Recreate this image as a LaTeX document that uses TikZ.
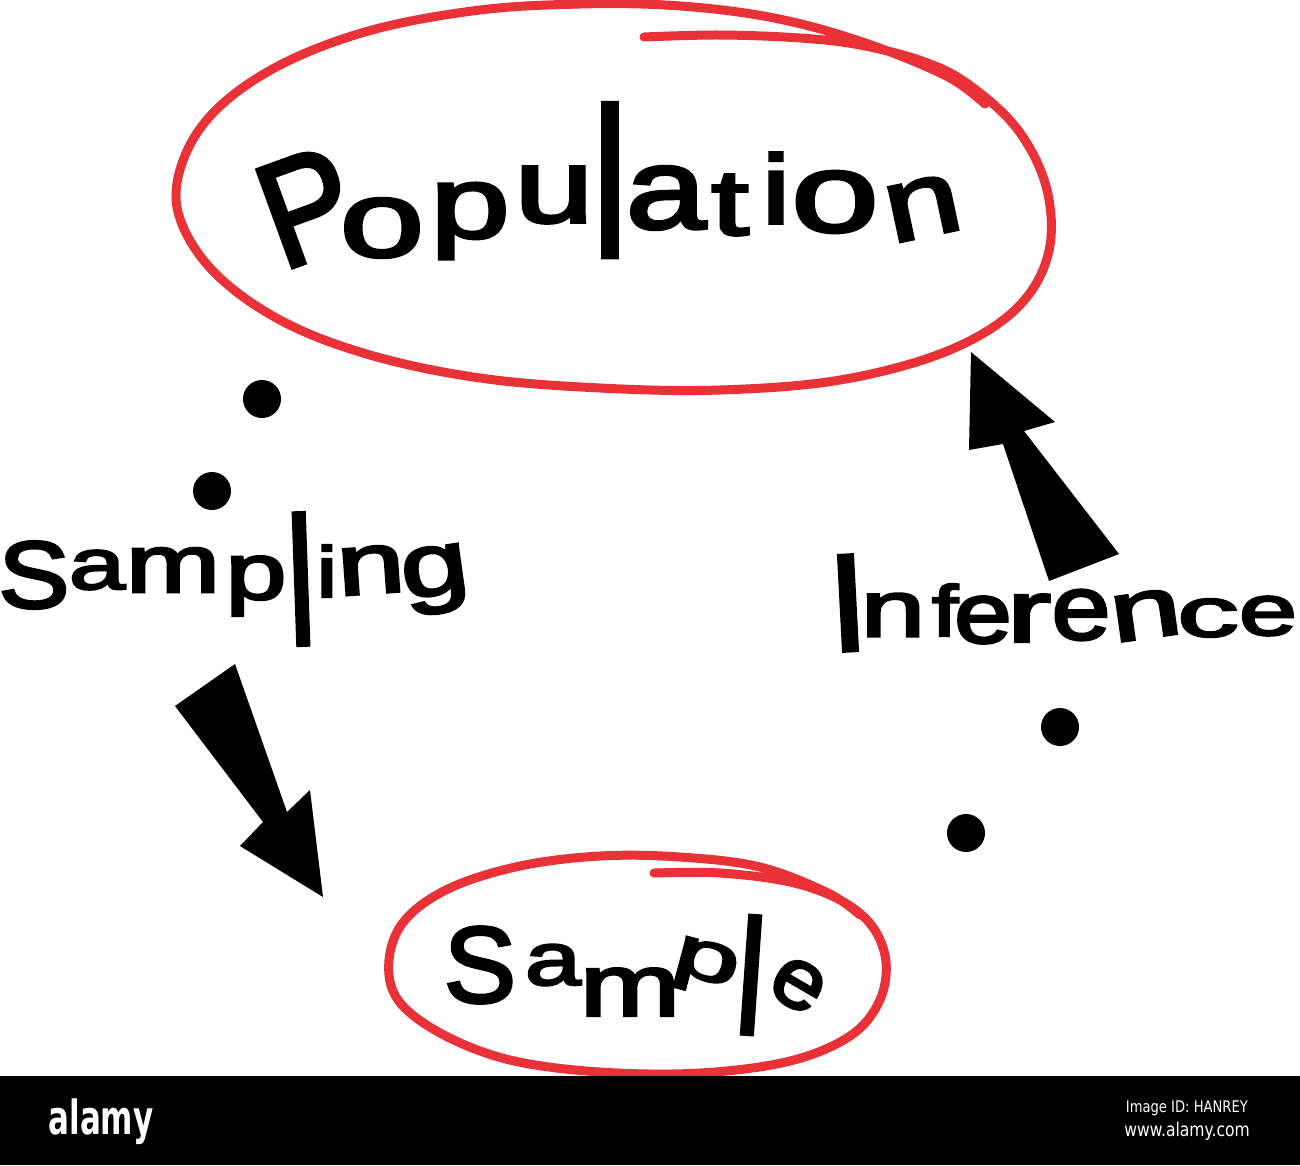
\documentclass[tikz,border=0pt]{standalone}
\usepackage{fontspec}
\setmainfont{Liberation Sans}
\newfontfamily\lett{Liberation Sans}[FakeBold=3]
\newfontfamily\dvs{DejaVu Sans}
\newcommand\lfs[1]{\lett\fontsize{#1}{#1}\selectfont}
\newcommand\ffs[1]{\fontsize{#1}{#1}\selectfont}
\definecolor{penred}{RGB}{232,50,56}
\begin{document}
\begin{tikzpicture}[x=1pt,y=-1pt,
  ltr/.style={inner sep=0pt, outer sep=0pt, anchor=center, text=black},
  redpen/.style={draw=penred, line width=9pt, line cap=round, line join=round},
  blk/.style={fill=black, draw=none},
  dotm/.style={circle, fill=black, inner sep=0pt, minimum size=38pt}]
\useasboundingbox (0,0) rectangle (1300,1165);
\fill[white] (0,0) rectangle (1300,1165);

% Population ellipse (hand drawn)
\draw[redpen] plot[smooth, tension=0.6] coordinates {
 (644,37) (720,35) (800,38) (860,45) (922,61) (968,84) (1018,130) (1047,190)
 (1048,255) (1015,310) (945,352) (840,380) (720,390) (600,388) (480,378)
 (370,355) (280,320) (212,270) (178,212) (184,158) (218,108) (282,64)
 (372,30) (480,10) (580,4) (665,5) (745,13) (813,27) (885,50) (950,78) (985,104)};

% Sample ellipse
\draw[redpen] plot[smooth, tension=0.6] coordinates {
 (654,873) (720,873) (790,882) (840,900) (872,926) (886,962) (879,1002)
 (850,1036) (790,1061) (700,1073) (600,1072) (510,1060) (442,1034) (398,1000)
 (389,960) (405,920) (450,888) (520,866) (600,856) (680,857) (760,867)
 (828,893) (860,915)};

% Population
\node[ltr,font=\lfs{150},rotate=20,xscale=0.9] (pop1) at (307,207) {P};
\node[ltr,font=\lfs{108},xscale=1.4] (pop2) at (382,228) {o};
\node[ltr,font=\lfs{102},xscale=1.4] (pop3) at (470,221) {p};
\node[ltr,font=\lfs{105},xscale=1.35] (pop4) at (554,195) {u};
\node[ltr,font=\lfs{150},yscale=1.4,xscale=1.0] (pop5) at (610,180) {l};
\node[ltr,font=\lfs{115},xscale=1.25] (pop6) at (666,198) {a};
\node[ltr,font=\lfs{93},xscale=1.45] (pop7) at (730,205) {t};
\node[ltr,font=\lfs{98},xscale=1.3] (pop8) at (776,188) {i};
\node[ltr,font=\lfs{112},xscale=1.4] (pop9) at (835,202) {o};
\node[ltr,font=\lfs{105},rotate=12,xscale=1.3] (pop10) at (923,208) {n};

% Sampling
\node[ltr,font=\lfs{95},xscale=1.12] (sg1) at (34,575) {S};
\node[ltr,font=\lfs{72},xscale=1.4] (sg2) at (97,570) {a};
\node[ltr,font=\lfs{82},xscale=1.38] (sg3) at (173,570) {m};
\node[ltr,font=\lfs{80},xscale=1.37] (sg4) at (256,586) {p};
\node[ltr,font=\lfs{120},rotate=2,yscale=1.5,xscale=1.0] (sg5) at (301,579) {l};
\node[ltr,font=\lfs{72},xscale=1.3] (sg6) at (327,571) {i};
\node[ltr,font=\lfs{87},rotate=4,xscale=1.4] (sg7) at (371,570) {n};
\node[ltr,font=\lfs{90},rotate=8,xscale=1.35] (sg8) at (436,580) {g};

% Inference
\node[ltr,font=\lfs{138},rotate=3,xscale=1.0] (in1) at (848,603) {I};
\node[ltr,font=\lfs{80},xscale=1.45] (in2) at (893,615) {n};
\node[ltr,font=\lfs{72},xscale=1.3] (in3) at (945,610) {f};
\node[ltr,font=\lfs{86},xscale=1.2] (in4) at (983,620) {e};
\node[ltr,font=\lfs{88},xscale=1.5] (in5) at (1029,618) {r};
\node[ltr,font=\lfs{92},xscale=1.15] (in6) at (1081,615) {e};
\node[ltr,font=\lfs{85},rotate=8,xscale=1.5] (in7) at (1146,615) {n};
\node[ltr,font=\lfs{70},xscale=1.75] (in8) at (1208,618) {c};
\node[ltr,font=\lfs{72},xscale=1.45] (in9) at (1268,616) {e};

% Sample
\node[ltr,font=\lfs{108}] (sp1) at (480,965) {S};
\node[ltr,font=\lfs{75},xscale=1.34] (sp2) at (553,965) {a};
\node[ltr,font=\lfs{88},xscale=1.37] (sp3) at (630,992) {m};
\node[ltr,font=\lfs{98},rotate=-15,yscale=0.72,xscale=1.2] (sp4) at (705,968) {p};
\node[ltr,font=\lfs{120},rotate=-4,yscale=1.35,xscale=1.0] (sp5) at (751,975) {l};
\node[ltr,font=\lfs{85},rotate=-30,xscale=1.1] (sp6) at (798,985) {e};

% block arrows
\fill[blk] (235,664) -- (287,812) -- (310,790) -- (323,897) -- (240,846) -- (263,822) -- (175,706) -- cycle;
\fill[blk] (971,352) -- (1055,422) -- (1024,431) -- (1119,554) -- (1049,581) -- (1003,444) -- (969,450) -- cycle;

% dots
\node[dotm] (d1) at (262,399) {};
\node[dotm] (d2) at (212,491) {};
\node[dotm] (d3) at (1060,727) {};
\node[dotm] (d4) at (966,833) {};

% footer bar
\fill[black] (0,1076) rectangle (1300,1165);
\node[font=\dvs\bfseries\ffs{47}, text=white, xscale=0.66, inner sep=0pt] (logo) at (101,1122) {alamy};
\node[font=\dvs\ffs{16}, text=white, xscale=0.82, anchor=east, inner sep=0pt] (imgid) at (1248,1108) {Image ID: HANREY};
\node[font=\dvs\ffs{19}, text=white, xscale=0.82, anchor=east, inner sep=0pt] (url) at (1250,1131) {www.alamy.com};
\end{tikzpicture}
\end{document}
